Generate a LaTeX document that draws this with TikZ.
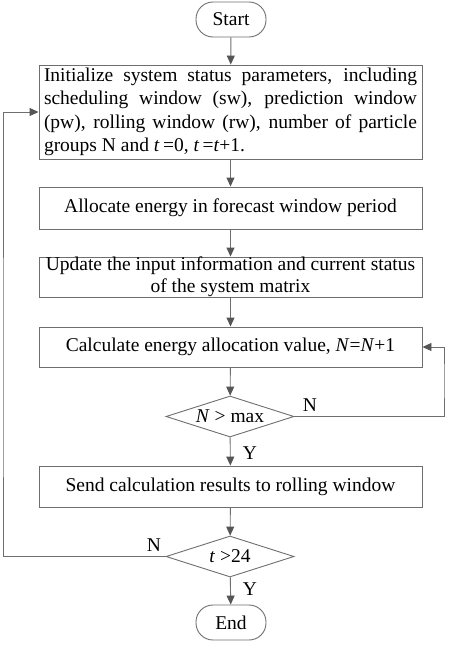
\documentclass[tikz,border=0pt]{standalone}
\usepackage{fontspec}
\setmainfont{Liberation Serif}
\usetikzlibrary{shapes.geometric,arrows.meta}
\definecolor{ln}{HTML}{6E6E6E}
\definecolor{ah}{HTML}{555555}
\begin{document}
\begin{tikzpicture}[x=1pt,y=-1pt,
  font=\fontsize{19.5}{23.5}\selectfont,
  proc/.style={draw=ln,line width=0.9pt,rectangle,minimum width=383pt,inner xsep=5pt,inner ysep=0pt,align=center},
  term/.style={draw=ln,line width=0.9pt,rectangle,rounded corners=17pt,minimum width=70pt,minimum height=35pt,inner sep=0pt},
  dec/.style={draw=ln,line width=0.9pt,diamond,aspect=3.1,minimum width=128pt,minimum height=41pt,inner sep=0pt},
  flow/.style={draw=ln,line width=0.9pt,-{Triangle[width=8pt,length=9pt,fill=ah,color=ah]}},
  lbl/.style={inner sep=0pt}]
\useasboundingbox (0,0) rectangle (474,667);
\node[term] (start) at (231,19.5) {Start};
\node[proc,minimum height=94pt,text width=373pt,align=justify] (b1) at (230.5,112)
  {Initialize system status parameters, including\linebreak scheduling window (sw), prediction window\linebreak (pw), rolling window (rw), number of particle\linebreak groups N and \textit{t}\,=0, \textit{t}\,=\textit{t}+1.};
\node[proc,minimum height=42pt] (b2) at (230.5,208) {Allocate energy in forecast window period};
\node[proc,minimum height=40pt,font=\fontsize{19.5}{22}\selectfont] (b3) at (230.5,277) {Update the input information and current status\\of the system matrix};
\node[proc,minimum height=40pt] (b4) at (230.5,347) {Calculate energy allocation value, \textit{N}=\textit{N}+1};
\node[dec] (d1) at (230,416.5) {\textit{N} > max};
\node[proc,minimum height=41pt] (b5) at (230.5,486.5) {Send calculation results to rolling window};
\node[dec] (d2) at (230,556.5) {\textit{t} >24};
\node[term] (end) at (231,622.5) {End};
\coordinate (lx) at (3,400);
\coordinate (rx) at (444,380);
\draw[flow] (start) -- (b1);
\draw[flow] (b1) -- (b2);
\draw[flow] (b2) -- (b3);
\draw[flow] (b3) -- (b4);
\draw[flow] (b4) -- (d1);
\draw[flow] (d1) -- (b5);
\draw[flow] (b5) -- (d2);
\draw[flow] (d2) -- (end);
\draw[flow] (d1.east) -| (rx) |- (b4.east);
\draw[flow] (d2.west) -| (lx) |- (b1.west);
\node[lbl] (n1) at (310,405) {N};
\node[lbl] (y1) at (250,453) {Y};
\node[lbl] (n2) at (154,545) {N};
\node[lbl] (y2) at (250,589) {Y};
\end{tikzpicture}
\end{document}
